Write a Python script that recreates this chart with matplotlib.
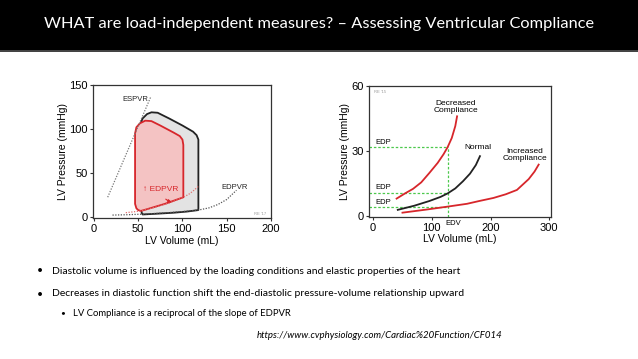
import numpy as np
import matplotlib
matplotlib.use("Agg")
import matplotlib.pyplot as plt
from matplotlib.patches import Rectangle, Polygon

# ---- slide text ----
TITLE = "WHAT are load-independent measures? \u2013 Assessing Ventricular Compliance"
BULLETS = ["Diastolic volume is influenced by the loading conditions and elastic properties of the heart",
           "Decreases in diastolic function shift the end-diastolic pressure-volume relationship upward"]
SUB_BULLET = "LV Compliance is a reciprocal of the slope of EDPVR"
URL = "https://www.cvphysiology.com/Cardiac%20Function/CF014"

# ---- left panel: PV loops (volume mL, pressure mmHg) ----
normal_v = [55, 70, 90, 105, 118, 118, 116, 112, 100, 85, 72, 65, 60, 55, 53, 53, 54]
normal_p = [3, 3.8, 5, 6.3, 8, 88, 93, 97, 104, 112, 118.5, 119, 117, 112, 107, 10, 5]
stiff_v = [53, 60, 80, 101, 101, 100, 97, 90, 75, 65, 58, 52, 48, 46.5, 46.5, 48, 50]
stiff_p = [7, 9, 15, 22.5, 82, 88, 92, 96, 104, 109, 109.5, 106.5, 102, 95, 15, 10, 8]
espvr_v = [15.6, 64]
espvr_p = [22.6, 136]
edpvr_v = [21, 40, 60, 80, 100, 118, 130, 140, 150, 161]
edpvr_p = [2.3, 2.8, 3.6, 4.8, 6.3, 8, 10.5, 14.3, 20, 30.5]
edpvr_up_v = [36, 53, 70, 85, 101, 108, 113, 118]
edpvr_up_p = [5, 7, 11.5, 16, 22.5, 26.5, 30.5, 35]

# ---- right panel: EDPVR curves ----
dec_v = [40, 55, 68, 82, 96, 110, 120, 127, 134, 140, 143]
dec_p = [8, 10.5, 12.5, 15.5, 19.9, 24.5, 28.5, 31.8, 36, 41.5, 46]
nor_v = [42, 70, 96, 115, 127, 140, 153, 165, 175, 182]
nor_p = [2.8, 4.7, 6.9, 8.8, 10.4, 12.7, 16, 19.5, 23.5, 27.6]
inc_v = [50, 90, 127, 160, 181, 205, 226, 245, 255, 265, 275, 282]
inc_p = [1.5, 2.9, 4.3, 5.6, 6.9, 8.3, 10, 12, 14.5, 17, 20.5, 23.7]
edv = 127
edp = [31.8, 10.4, 4.3]

RED = "#d7262b"
GREEN = "#4cc84c"
plt.rcParams["font.family"] = ["Liberation Sans", "DejaVu Sans"]

fig = plt.figure(figsize=(6.38, 3.59), dpi=100)
fig.patch.set_facecolor("white")

# title bar
fig.patches.append(Rectangle((0, 1 - 50 / 359), 1, 50 / 359, transform=fig.transFigure,
                             facecolor="black", edgecolor="none", zorder=0))
fig.patches.append(Rectangle((0, 1 - 52 / 359), 1, 2 / 359, transform=fig.transFigure,
                             facecolor="#444444", edgecolor="none", zorder=0))
fig.text(0.5, 1 - 24 / 359, TITLE, color="white", fontsize=11.8, family="Lato",
         ha="center", va="center")

# left chart
ax = fig.add_axes([93 / 638, 1 - 218 / 359, 178 / 638, 133 / 359])
ax.plot(espvr_v, espvr_p, ls=(0, (1, 1.2)), color="#777777", lw=0.9)
ax.plot(edpvr_v, edpvr_p, ls=(0, (1, 1.2)), color="#555555", lw=0.9)
ax.plot(edpvr_up_v, edpvr_up_p, ls=(0, (1, 1.2)), color="#e07070", lw=0.9)
ax.add_patch(Polygon(np.column_stack([normal_v, normal_p]), closed=True,
                     facecolor="#e3e3e3", edgecolor="#222222", lw=1.3, joinstyle="round"))
ax.add_patch(Polygon(np.column_stack([stiff_v, stiff_p]), closed=True,
                     facecolor="#f4c3c3", edgecolor=RED, lw=1.3, joinstyle="round"))
ax.text(47, 134, "ESPVR", fontsize=5.5, ha="center", va="center", color="#222222")
ax.text(159, 34, "EDPVR", fontsize=5.5, ha="center", va="center", color="#222222")
ax.annotate("\u2191 EDPVR", xy=(88, 17), xytext=(75, 31), fontsize=6, color=RED,
            ha="center", va="center",
            arrowprops=dict(arrowstyle="-|>", color=RED, lw=0.8,
                            connectionstyle="arc3,rad=0.3", shrinkA=3, shrinkB=0,
                            mutation_scale=5))
ax.text(188, 4, "RE '17", fontsize=3, color="#999999", ha="center", va="center")
ax.set_xlim(-1, 200)
ax.set_ylim(-1, 150)
ax.set_xticks([0, 50, 100, 150, 200])
ax.set_yticks([0, 50, 100, 150])
ax.set_xlabel("LV Volume (mL)", fontsize=7.5, labelpad=2)
ax.set_ylabel("LV Pressure (mmHg)", fontsize=7.5, labelpad=1)

# right chart
ax2 = fig.add_axes([369 / 638, 1 - 217 / 359, 182 / 638, 131 / 359])
for y in edp:
    ax2.plot([-7, edv], [y, y], ls=(0, (2, 1.5)), color=GREEN, lw=0.9)
ax2.plot([edv, edv], [-0.5, edp[0]], ls=(0, (2, 1.5)), color=GREEN, lw=0.9)
ax2.plot(dec_v, dec_p, color=RED, lw=1.3)
ax2.plot(nor_v, nor_p, color="#222222", lw=1.3)
ax2.plot(inc_v, inc_p, color=RED, lw=1.3)
for y, ty in zip(edp, [34, 13, 6.1]):
    ax2.text(17, ty, "EDP", fontsize=5.5, ha="center", va="center")
ax2.text(136, -3.6, "EDV", fontsize=5.5, ha="center", va="center")
ax2.text(141, 50.5, "Decreased\nCompliance", fontsize=6, ha="center", va="center", linespacing=1.0)
ax2.text(178, 31.4, "Normal", fontsize=6, ha="center", va="center")
ax2.text(259, 28.3, "Increased\nCompliance", fontsize=6, ha="center", va="center", linespacing=1.0)
ax2.text(11, 57, "RE '15", fontsize=3, color="#999999", ha="center", va="center")
ax2.set_xlim(-7, 303)
ax2.set_ylim(-0.5, 60)
ax2.set_xticks([0, 100, 200, 300])
ax2.set_yticks([0, 30, 60])
ax2.set_xlabel("LV Volume (mL)", fontsize=7.5, labelpad=1)
ax2.set_ylabel("LV Pressure (mmHg)", fontsize=7.5, labelpad=1)

for a in (ax, ax2):
    a.tick_params(labelsize=8, length=2.5, width=0.8, pad=1.5, color="#333333")
    for s in a.spines.values():
        s.set_color("#333333")
        s.set_linewidth(0.9)

# bullets
fig.text(40 / 638, 1 - 271 / 359, "\u2022", fontsize=7.5, family="Lato", ha="center", va="center")
fig.text(52 / 638, 1 - 271 / 359, BULLETS[0], fontsize=7.45, family="Lato", va="center")
fig.text(40 / 638, 1 - 294 / 359, "\u2022", fontsize=7.5, family="Lato", ha="center", va="center")
fig.text(52 / 638, 1 - 294 / 359, BULLETS[1], fontsize=7.45, family="Lato", va="center")
fig.text(63 / 638, 1 - 313 / 359, "\u2022", fontsize=6, family="Lato", ha="center", va="center")
fig.text(73 / 638, 1 - 313 / 359, SUB_BULLET, fontsize=6.85, family="Lato", va="center")
fig.text(257 / 638, 1 - 335 / 359, URL, fontsize=6.9, family="Lato", style="italic", va="center")

fig.savefig("out.png", dpi=100)
